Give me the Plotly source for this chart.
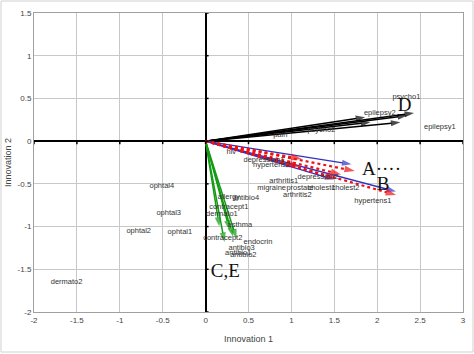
import plotly.graph_objects as go

# ---- data ----
black_tips_x = [2.43, 2.35, 2.27, 1.86, 1.92]
black_tips_y = [0.33, 0.30, 0.22, 0.28, 0.22]

blue_tips_x = [1.70, 2.22, 1.05, 1.50]
blue_tips_y = [-0.27, -0.59, -0.30, -0.45]

red_tips_x = [1.74, 2.22, 1.12, 1.10, 1.58, 1.52]
red_tips_y = [-0.35, -0.63, -0.21, -0.30, -0.39, -0.44]

green_tips_x = [0.16, 0.22, 0.28, 0.32, 0.36]
green_tips_y = [-1.00, -1.18, -1.04, -1.12, -1.14]

point_labels = ["psycho1", "epilepsy2", "epilepsy1", "psycho2", "pain",
                "hiv", "depression1", "hypertens2", "depression2", "arthritis1",
                "migraine", "prostate", "cholest1", "cholest2", "arthritis2",
                "hypertens1", "allergy", "antibio4", "contracept1", "dermato1",
                "asthma", "contracept2", "endocrin", "antibio3", "antibio1",
                "antibio2", "ophtal4", "ophtal3", "ophtal2", "ophtal1", "dermato2"]
label_x = [2.34, 2.03, 2.73, 1.35, 0.87,
           0.30, 0.68, 0.77, 1.31, 0.91,
           0.77, 1.10, 1.35, 1.63, 1.07,
           1.95, 0.27, 0.47, 0.27, 0.19,
           0.40, 0.20, 0.61, 0.42, 0.38,
           0.44, -0.51, -0.43, -0.78, -0.30, -1.62]
label_y = [0.52, 0.33, 0.16, 0.13, 0.07,
           -0.13, -0.22, -0.28, -0.42, -0.47,
           -0.55, -0.55, -0.55, -0.55, -0.63,
           -0.70, -0.66, -0.67, -0.77, -0.85,
           -0.98, -1.14, -1.18, -1.25, -1.31,
           -1.33, -0.53, -0.84, -1.05, -1.07, -1.65]

group_labels = ["D", "A····", "B", "C,E"]
group_x = [2.32, 2.05, 2.07, 0.23]
group_y = [0.41, -0.34, -0.52, -1.53]

tick_vals_x = [-2, -1.5, -1, -0.5, 0, 0.5, 1, 1.5, 2, 2.5, 3]
tick_vals_y = [-2, -1.5, -1, -0.5, 0, 0.5, 1, 1.5]

fig = go.Figure()

def add_arrows(xs, ys, color, dash, width, size):
    for x, y in zip(xs, ys):
        fig.add_trace(go.Scatter(
            x=[0, x], y=[0, y], mode="lines+markers",
            line=dict(color=color, width=width, dash=dash),
            marker=dict(symbol="arrow", size=[0, size], color=color,
                        angleref="previous", line=dict(width=0)),
            hoverinfo="skip", showlegend=False))

add_arrows(black_tips_x, black_tips_y, "black", "solid", 1.5, 10)
add_arrows(green_tips_x, green_tips_y, "#139a13", "solid", 1.5, 10)
add_arrows(blue_tips_x, blue_tips_y, "#3030c8", "solid", 1.3, 10)
add_arrows(red_tips_x, red_tips_y, "#ee1111", "dot", 2.2, 11)

fig.add_trace(go.Scatter(
    x=label_x, y=label_y, mode="text", text=point_labels,
    textfont=dict(family="Liberation Sans, Arial", size=7.5, color="#333333"),
    hoverinfo="skip", showlegend=False))

fig.add_trace(go.Scatter(
    x=group_x, y=group_y, mode="text", text=group_labels,
    textfont=dict(family="Liberation Serif, Times New Roman", size=19, color="#111111"),
    hoverinfo="skip", showlegend=False))

# small tick marks on the black zero axes
shapes = []
for v in tick_vals_y:
    shapes.append(dict(type="line", x0=0, x1=0.035, y0=v, y1=v,
                       line=dict(color="black", width=1.5), layer="above"))
for v in tick_vals_x:
    shapes.append(dict(type="line", x0=v, x1=v, y0=0, y1=-0.035,
                       line=dict(color="black", width=1.5), layer="above"))
# outer chart border
shapes.append(dict(type="rect", xref="paper", yref="paper",
                   x0=-33/429, x1=1 + 10/429, y0=-40/299, y1=1 + 12/299,
                   line=dict(color="#d0d0d0", width=1)))

axis_font = dict(family="Liberation Sans, Arial", size=8, color="#444")
title_font = dict(family="Liberation Sans, Arial", size=9, color="#444")

fig.update_layout(
    width=474, height=354,
    margin=dict(l=34, r=11, t=13, b=42),
    paper_bgcolor="white", plot_bgcolor="white",
    shapes=shapes,
    xaxis=dict(range=[-2, 3], tickvals=tick_vals_x,
               ticktext=[str(v) for v in tick_vals_x],
               showgrid=True, gridcolor="#c8c8c8", gridwidth=1,
               zeroline=True, zerolinecolor="black", zerolinewidth=2,
               showline=True, linecolor="#a0a0a0", mirror=True,
               ticks="", tickfont=axis_font, automargin=False,
               title=dict(text="Innovation 1", font=title_font, standoff=12)),
    yaxis=dict(range=[-2, 1.5], tickvals=tick_vals_y,
               ticktext=[str(v) for v in tick_vals_y],
               showgrid=True, gridcolor="#c8c8c8", gridwidth=1,
               zeroline=True, zerolinecolor="black", zerolinewidth=2,
               showline=True, linecolor="#a0a0a0", mirror=True,
               ticks="", tickfont=axis_font, automargin=False,
               title=dict(text="Innovation 2", font=title_font, standoff=4)),
)

fig.write_html("out.html")
